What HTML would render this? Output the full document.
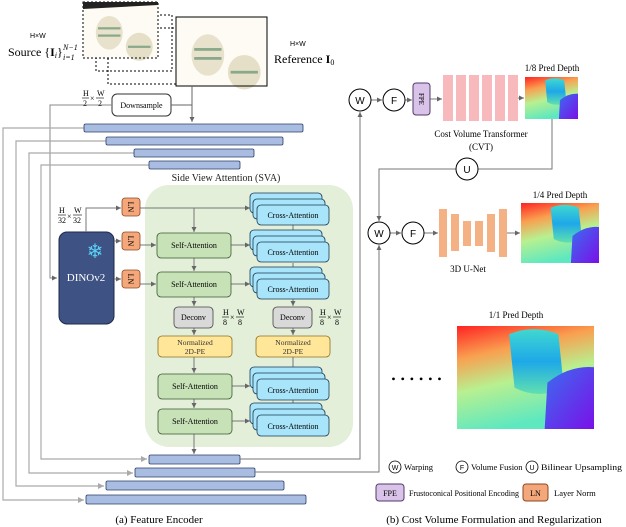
<!DOCTYPE html>
<html><head><meta charset="utf-8"><style>
body{margin:0;background:#fff}
svg{display:block;font-family:"Liberation Serif",serif}
</style></head><body>
<svg width="626" height="527" viewBox="0 0 626 527" xmlns="http://www.w3.org/2000/svg">
<defs>
<marker id="a" markerWidth="6" markerHeight="6" refX="5" refY="3" orient="auto"><path d="M0,0.5 L5,3 L0,5.5z" fill="#666"/></marker>
<marker id="b" markerWidth="6" markerHeight="6" refX="5" refY="3" orient="auto"><path d="M0,0.5 L5,3 L0,5.5z" fill="#aaa"/></marker>
<linearGradient id="dg" x1="0" y1="0" x2="0.3" y2="1"><stop offset="0" stop-color="#f22"/><stop offset="0.3" stop-color="#f9a050"/><stop offset="0.6" stop-color="#b8f090"/><stop offset="1" stop-color="#5ee8c0"/></linearGradient>
<linearGradient id="cy" x1="0" y1="0" x2="0" y2="1"><stop offset="0" stop-color="#40d8d0"/><stop offset="0.5" stop-color="#1ea8e8"/><stop offset="1" stop-color="#60e0b0"/></linearGradient>
<linearGradient id="bl" x1="0" y1="0" x2="1" y2="1"><stop offset="0" stop-color="#3a6ef0"/><stop offset="1" stop-color="#7a10e8"/></linearGradient>
<g id="depth"><rect x="0" y="0" width="100" height="100" fill="url(#dg)"/><path d="M38,8 Q56,-2 74,8 L78,60 Q60,72 42,60z" fill="url(#cy)"/><path d="M66,55 Q82,38 100,40 L100,100 L64,100z" fill="url(#bl)"/></g>
<g id="photo"><rect width="100" height="100" fill="#fdfbf4"/><ellipse cx="35" cy="55" rx="18" ry="30" fill="#e8e2cc"/><rect x="20" y="45" width="30" height="4" fill="#8aa88a"/><rect x="20" y="58" width="30" height="4" fill="#8aa88a"/><ellipse cx="75" cy="80" rx="18" ry="25" fill="#e6dfc8"/><rect x="60" y="78" width="30" height="4" fill="#8aa88a"/></g>
</defs>

<rect x="108" y="28" width="72" height="56" fill="none" stroke="#000" stroke-dasharray="2,2"/>
<rect x="96" y="15" width="76" height="56" fill="none" stroke="#000" stroke-dasharray="2,2"/>
<use href="#photo" transform="translate(83,2) scale(0.75,0.56)"/>
<rect x="83" y="2" width="75" height="56" fill="none" stroke="#000" stroke-dasharray="2,2"/>
<path d="M83,2 L158,2 L158,5 L83,9z" fill="#222"/>
<use href="#photo" transform="translate(176,17) scale(0.91,0.69)"/>
<rect x="176" y="17" width="91" height="69" fill="none" stroke="#000"/>
<text x="30" y="38" font-family="Liberation Sans" font-size="7">H×W</text>
<text x="8" y="56" font-size="12">Source {<tspan font-weight="bold">I</tspan><tspan font-size="8" font-style="italic" dy="2">i</tspan><tspan dy="-2">}</tspan></text>
<text x="63" y="50" font-size="8" font-style="italic">N−1</text>
<text x="63" y="60" font-size="8" font-style="italic">i=1</text>
<text x="290" y="46" font-family="Liberation Sans" font-size="7">H×W</text>
<text x="274" y="63" font-size="12">Reference <tspan font-weight="bold">I</tspan><tspan font-size="8" dy="2">0</tspan></text>

<text x="83" y="96" font-size="8">H</text><line x1="82" y1="98" x2="89" y2="98" stroke="#000" stroke-width=".6"/><text x="83" y="106" font-size="8">2</text>
<text x="90" y="101" font-size="8">×</text>
<text x="97" y="96" font-size="8">W</text><line x1="96" y1="98" x2="104" y2="98" stroke="#000" stroke-width=".6"/><text x="98" y="106" font-size="8">2</text>
<rect x="112" y="94" width="59" height="22" rx="5" fill="#fff" stroke="#333"/>
<text x="141.5" y="108" font-size="8" text-anchor="middle">Downsample</text>
<polyline points="192,86 192,122" fill="none" stroke="#666" marker-end="url(#a)"/>
<line x1="171" y1="105" x2="192" y2="105" stroke="#666"/>
<polyline points="112,105 50,105 50,278 57,278" fill="none" stroke="#888" marker-end="url(#a)"/>

<g fill="none" stroke="#aaa" stroke-width="1.2">
<polyline points="84,128 3,128 3,500 84,500" marker-end="url(#b)"/>
<polyline points="106,141 16,141 16,486 104,486" marker-end="url(#b)"/>
<polyline points="134,153 29,153 29,473 133,473" marker-end="url(#b)"/>
<polyline points="149,165 41,165 41,459 147,459" marker-end="url(#b)"/>
</g>

<g fill="#a9bde2" stroke="#2c3e66" stroke-width=".8">
<rect x="84" y="124" width="219" height="8" rx="1.5"/>
<rect x="106" y="137" width="177" height="8" rx="1.5"/>
<rect x="134" y="149" width="120" height="8" rx="1.5"/>
<rect x="149" y="161" width="91" height="8" rx="1.5"/>
<rect x="149" y="455" width="91" height="9" rx="1.5"/>
<rect x="135" y="468" width="120" height="9" rx="1.5"/>
<rect x="106" y="481" width="178" height="9" rx="1.5"/>
<rect x="86" y="495" width="220" height="9" rx="1.5"/>
</g>

<text x="226" y="181" font-size="10" text-anchor="middle" fill="#222">Side View Attention (SVA)</text>
<rect x="145" y="185" width="208" height="262" rx="24" fill="#e3efd9"/>

<rect x="59" y="232" width="55" height="92" rx="8" fill="#3e5384" stroke="#1d2a48"/>
<text x="95" y="258" font-family="DejaVu Sans" font-size="20" fill="#5ad0f5" text-anchor="middle">❄</text>
<text x="86" y="281" font-size="11" fill="#fff" text-anchor="middle">DINOv2</text>
<text x="59" y="213" font-size="8">H</text><line x1="58" y1="215" x2="66" y2="215" stroke="#000" stroke-width=".6"/><text x="58" y="223" font-size="8">32</text>
<text x="67" y="219" font-size="8">×</text>
<text x="74" y="213" font-size="8">W</text><line x1="73" y1="215" x2="82" y2="215" stroke="#000" stroke-width=".6"/><text x="73" y="223" font-size="8">32</text>

<g fill="none" stroke="#777" stroke-width="1">
<polyline points="86,232 86,208 121,208" marker-end="url(#a)"/>
<line x1="114" y1="241" x2="121" y2="241" marker-end="url(#a)"/>
<line x1="114" y1="279" x2="121" y2="279" marker-end="url(#a)"/>
<line x1="140" y1="208" x2="250" y2="208" marker-end="url(#a)"/>
<line x1="194" y1="208" x2="194" y2="232" marker-end="url(#a)"/>
<line x1="140" y1="245" x2="156" y2="245" marker-end="url(#a)"/>
<line x1="140" y1="284" x2="156" y2="284" marker-end="url(#a)"/>
<line x1="231" y1="245" x2="250" y2="245" marker-end="url(#a)"/>
<line x1="231" y1="284" x2="250" y2="284" marker-end="url(#a)"/>
<line x1="194" y1="258" x2="194" y2="271" marker-end="url(#a)"/>
<line x1="194" y1="297" x2="194" y2="306" marker-end="url(#a)"/>
<line x1="194" y1="328" x2="194" y2="335" marker-end="url(#a)"/>
<line x1="194" y1="357" x2="194" y2="373" marker-end="url(#a)"/>
<line x1="194" y1="399" x2="194" y2="408" marker-end="url(#a)"/>
<line x1="194" y1="434" x2="194" y2="454" marker-end="url(#a)"/>
<line x1="232" y1="386" x2="250" y2="386" marker-end="url(#a)"/>
<line x1="232" y1="421" x2="250" y2="421" marker-end="url(#a)"/>
<line x1="293" y1="225" x2="293" y2="240" marker-end="url(#a)"/>
<line x1="293" y1="263" x2="293" y2="278" marker-end="url(#a)"/>
<line x1="293" y1="298" x2="293" y2="306" marker-end="url(#a)"/>
<line x1="293" y1="328" x2="293" y2="335" marker-end="url(#a)"/>
<line x1="293" y1="357" x2="293" y2="377" marker-end="url(#a)"/>
<line x1="293" y1="400" x2="293" y2="413" marker-end="url(#a)"/>
</g>

<g fill="#f4a77a" stroke="#8a4a20" stroke-width=".8">
<rect x="122" y="198" width="18" height="18" rx="3"/>
<rect x="122" y="232" width="18" height="18" rx="3"/>
<rect x="122" y="270" width="18" height="18" rx="3"/>
</g>
<g font-size="8" text-anchor="middle">
<text transform="translate(128,207) rotate(90)">LN</text>
<text transform="translate(128,241) rotate(90)">LN</text>
<text transform="translate(128,279) rotate(90)">LN</text>
</g>

<g fill="#c8e2b8" stroke="#3a5a30" stroke-width=".8">
<rect x="157" y="233" width="74" height="25" rx="4"/>
<rect x="157" y="272" width="74" height="25" rx="4"/>
<rect x="158" y="374" width="74" height="25" rx="4"/>
<rect x="158" y="409" width="74" height="25" rx="4"/>
</g>
<g font-size="8" text-anchor="middle">
<text x="194" y="248">Self-Attention</text><text x="194" y="287">Self-Attention</text>
<text x="195" y="389">Self-Attention</text><text x="195" y="424">Self-Attention</text>
</g>

<g fill="#d9d9d9" stroke="#444" stroke-width=".8">
<rect x="174" y="307" width="39" height="21" rx="4"/><rect x="273" y="307" width="39" height="21" rx="4"/>
</g>
<text x="193.5" y="320" font-size="8" text-anchor="middle">Deconv</text>
<text x="292.5" y="320" font-size="8" text-anchor="middle">Deconv</text>
<g fill="#ffe699" stroke="#8a7020" stroke-width=".8">
<rect x="158" y="336" width="74" height="21" rx="4"/><rect x="256" y="336" width="74" height="21" rx="4"/>
</g>
<g font-size="7.5" text-anchor="middle" fill="#333">
<text x="195" y="345">Normalized</text><text x="195" y="354">2D-PE</text>
<text x="293" y="345">Normalized</text><text x="293" y="354">2D-PE</text>
</g>
<g font-size="8">
<text x="223" y="315">H</text><line x1="222" y1="317" x2="229" y2="317" stroke="#000" stroke-width=".6"/><text x="223" y="325">8</text><text x="230" y="320">×</text><text x="237" y="315">W</text><line x1="236" y1="317" x2="244" y2="317" stroke="#000" stroke-width=".6"/><text x="238" y="325">8</text>
<text x="320" y="315">H</text><line x1="319" y1="317" x2="326" y2="317" stroke="#000" stroke-width=".6"/><text x="320" y="325">8</text><text x="327" y="320">×</text><text x="334" y="315">W</text><line x1="333" y1="317" x2="341" y2="317" stroke="#000" stroke-width=".6"/><text x="335" y="325">8</text>
</g>

<g fill="#a8e4fa" stroke="#1a3a55" stroke-width=".8">
<rect x="250" y="193" width="72" height="20" rx="4"/><rect x="253" y="199" width="72" height="20" rx="4"/><rect x="257" y="205" width="72" height="20" rx="4"/>
<rect x="250" y="230" width="72" height="20" rx="4"/><rect x="253" y="236" width="72" height="20" rx="4"/><rect x="257" y="242" width="72" height="20" rx="4"/>
<rect x="250" y="267" width="72" height="20" rx="4"/><rect x="253" y="273" width="72" height="20" rx="4"/><rect x="257" y="279" width="72" height="20" rx="4"/>
<rect x="250" y="367" width="72" height="21" rx="4"/><rect x="253" y="373" width="72" height="21" rx="4"/><rect x="257" y="379" width="72" height="21" rx="4"/>
<rect x="250" y="403" width="72" height="21" rx="4"/><rect x="253" y="409" width="72" height="21" rx="4"/><rect x="257" y="415" width="72" height="21" rx="4"/>
</g>
<g font-size="8" text-anchor="middle">
<text x="293" y="218">Cross-Attention</text><text x="293" y="255">Cross-Attention</text><text x="293" y="292">Cross-Attention</text>
<text x="293" y="393">Cross-Attention</text><text x="293" y="429">Cross-Attention</text>
</g>

<g fill="none" stroke="#777">
<polyline points="240,459 360,459 360,112" marker-end="url(#a)"/>
<polyline points="255,472 379,472 379,245" marker-end="url(#a)"/>
<polyline points="552,119 552,169 478,169"/>
<polyline points="456,169 379,169 379,221" marker-end="url(#a)"/>
<line x1="371" y1="100" x2="382" y2="100" marker-end="url(#a)"/>
<line x1="405" y1="100" x2="412" y2="100" marker-end="url(#a)"/>
<line x1="430" y1="99" x2="442" y2="99" marker-end="url(#a)"/>
<line x1="518" y1="98" x2="524" y2="98" marker-end="url(#a)"/>
<line x1="390" y1="233" x2="401" y2="233" marker-end="url(#a)"/>
<line x1="424" y1="233" x2="438" y2="233" marker-end="url(#a)"/>
<line x1="507" y1="233" x2="520" y2="233" marker-end="url(#a)"/>
</g>
<g fill="#fff" stroke="#000" stroke-width="1">
<circle cx="360" cy="100" r="11"/><circle cx="394" cy="100" r="11"/>
<circle cx="467" cy="169" r="11"/>
<circle cx="379" cy="233" r="11"/><circle cx="413" cy="233" r="11"/>
</g>
<g font-family="Liberation Sans" font-size="10" text-anchor="middle">
<text x="360" y="104">W</text><text x="394" y="104">F</text><text x="467" y="173">U</text>
<text x="379" y="237">W</text><text x="413" y="237">F</text>
</g>
<rect x="413" y="83" width="17" height="32" rx="3" fill="#d9c3e9" stroke="#503a6a"/>
<text transform="translate(419,99) rotate(90)" font-size="7" text-anchor="middle">FPE</text>
<g fill="#f8b9bd">
<rect x="443" y="75" width="10" height="46"/><rect x="456" y="75" width="10" height="46"/><rect x="469" y="75" width="10" height="46"/><rect x="482" y="75" width="10" height="46"/><rect x="495" y="75" width="10" height="46"/><rect x="508" y="75" width="10" height="46"/>
</g>
<text x="481" y="137" font-size="9" text-anchor="middle">Cost Volume Transformer</text>
<text x="481" y="150" font-size="9" text-anchor="middle">(CVT)</text>
<text x="552" y="71" font-size="9" text-anchor="middle">1/8 Pred Depth</text>
<use href="#depth" transform="translate(525,77) scale(0.53,0.42)"/>
<g fill="#f4b183">
<rect x="439" y="209" width="8" height="48"/><rect x="451" y="214" width="8" height="37"/><rect x="463" y="221" width="8" height="25"/><rect x="475" y="221" width="8" height="25"/><rect x="487" y="214" width="8" height="38"/><rect x="499" y="209" width="8" height="48"/>
</g>
<text x="468" y="272" font-size="9" text-anchor="middle">3D U-Net</text>
<text x="560" y="198" font-size="9" text-anchor="middle">1/4 Pred Depth</text>
<use href="#depth" transform="translate(521,203) scale(0.78,0.6)"/>
<text x="516" y="318" font-size="9" text-anchor="middle">1/1 Pred Depth</text>
<use href="#depth" transform="translate(457,326) scale(1.37,1.03)"/>
<text x="417" y="383" font-size="12" text-anchor="middle" letter-spacing="1">• • • • • •</text>

<g fill="#fff" stroke="#000" stroke-width=".8"><circle cx="395" cy="467" r="6"/><circle cx="462" cy="467" r="6"/><circle cx="532" cy="467" r="6"/></g>
<g font-family="Liberation Sans" font-size="7" text-anchor="middle"><text x="395" y="470">W</text><text x="462" y="470">F</text><text x="532" y="470">U</text></g>
<g font-size="8.5"><text x="404" y="470">Warping</text><text x="471" y="470">Volume Fusion</text><text x="541" y="470" textLength="81" lengthAdjust="spacingAndGlyphs">Bilinear Upsampling</text>
<text x="409" y="496" textLength="110" lengthAdjust="spacingAndGlyphs">Frustoconical Positional Encoding</text><text x="554" y="496">Layer Norm</text></g>
<rect x="376" y="484" width="28" height="17" rx="3" fill="#d9c3e9" stroke="#503a6a"/>
<text x="390" y="496" font-size="8" text-anchor="middle">FPE</text>
<rect x="523" y="484" width="25" height="17" rx="3" fill="#f4a77a" stroke="#8a4a20"/>
<text x="535.5" y="496" font-size="8" text-anchor="middle">LN</text>

<text x="159" y="523" font-size="11" text-anchor="middle">(a) Feature Encoder</text>
<text x="494" y="523" font-size="11" text-anchor="middle">(b) Cost Volume Formulation and Regularization</text>
</svg>
</body></html>
